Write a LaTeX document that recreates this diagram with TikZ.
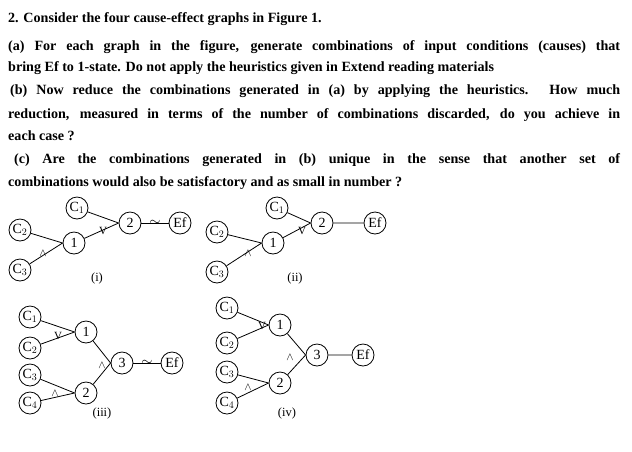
\documentclass[tikz,border=0pt]{standalone}
\usepackage{fontspec}
\setmainfont{Liberation Serif}
\begin{document}
\begin{tikzpicture}[x=1pt,y=-1pt,
  cn/.style={circle,draw,line width=0.8pt,inner sep=0pt,minimum size=22pt,font=\fontsize{14}{14}\selectfont},
  op/.style={font=\fontsize{11}{11}\selectfont},
  gcap/.style={font=\fontsize{12.5}{12.5}\selectfont},
  ln/.style={anchor=base west,inner sep=0pt,font=\bfseries\fontsize{14.1}{16}\selectfont},
  ed/.style={line width=0.8pt},
  wv/.style={line width=0.8pt}]
\useasboundingbox (0,0) rectangle (632,451);
\newcommand\jl[1]{\makebox[612pt][s]{#1}}
\node[ln] (t1) at (8,22) {2. Consider the four cause-effect graphs in Figure 1.};
\node[ln] (t2) at (8,50) {\jl{(a) For each graph in the figure, generate combinations of input conditions (causes) that}};
\node[ln] (t3) at (8,71) {bring Ef to 1-state. Do not apply the heuristics given in Extend reading materials};
\node[ln] (t4) at (10,94) {\makebox[610pt][s]{(b) Now reduce the combinations generated in (a) by applying the heuristics. How much}};
\node[ln] (t5) at (8,118) {\jl{reduction, measured in terms of the number of combinations discarded, do you achieve in}};
\node[ln] (t6) at (8,140) {each case ?};
\node[ln] (t7) at (14,163) {\makebox[606pt][s]{(c) Are the combinations generated in (b) unique in the sense that another set of}};
\node[ln] (t8) at (8,186) {combinations would also be satisfactory and as small in number ?};
% (i)
\node[cn] (a1) at (77,208) {C$_1$};
\node[cn] (a2) at (20,230) {C$_2$};
\node[cn] (a3) at (20,270) {C$_3$};
\node[cn] (an1) at (74,243) {1};
\node[cn] (an2) at (130,223) {2};
\node[cn] (aef) at (180,223) {Ef};
\draw[ed] (a2) -- (an1.west) (a3) -- (an1.west) (a1) -- (an2.west) (an1) -- (an2.west);
\draw[wv] (an2) -- (aef) node[midway,inner sep=0pt,font=\bfseries\Large]{$\sim$};
\node[op] (av) at (103,231) {V};
\node[op] (aa) at (43,253) {$\wedge$};
\node[gcap] (ac) at (97,278) {(i)};
% (ii)
\node[cn] (b1) at (277,208) {C$_1$};
\node[cn] (b2) at (217,232) {C$_2$};
\node[cn] (b3) at (217,272) {C$_3$};
\node[cn] (bn1) at (273,243) {1};
\node[cn] (bn2) at (322,223) {2};
\node[cn] (bef) at (375,223) {Ef};
\draw[ed] (b2) -- (bn1.west) (b3) -- (bn1.west) (b1) -- (bn2.west) (bn1) -- (bn2.west) (bn2) -- (bef);
\node[op] (bv) at (302,231) {V};
\node[op] (ba) at (248,253) {$\wedge$};
\node[gcap] (bc) at (295,278) {(ii)};
% (iii)
\node[cn] (c1) at (30,317) {C$_1$};
\node[cn] (c2) at (30,348) {C$_2$};
\node[cn] (c3) at (30,375) {C$_3$};
\node[cn] (c4) at (30,403) {C$_4$};
\node[cn] (cn1) at (86,332) {1};
\node[cn] (cn2) at (86,393) {2};
\node[cn] (cn3) at (122,363) {3};
\node[cn] (cef) at (172,363) {Ef};
\draw[ed] (c1) -- (cn1.west) (c2) -- (cn1.west) (c3) -- (cn2.west) (c4) -- (cn2.west)
  (cn1) -- (cn3.west) (cn2) -- (cn3.west);
\draw[wv] (cn3) -- (cef) node[midway,inner sep=0pt,font=\bfseries\Large]{$\sim$};
\node[op] (cv) at (58,336) {V};
\node[op] (ca) at (55,393) {$\wedge$};
\node[op] (ca2) at (102,365) {$\wedge$};
\node[gcap] (cc) at (102,413) {(iii)};
% (iv)
\node[cn] (d1) at (227,308) {C$_1$};
\node[cn] (d2) at (227,343) {C$_2$};
\node[cn] (d3) at (227,372) {C$_3$};
\node[cn] (d4) at (227,403) {C$_4$};
\node[cn] (dn1) at (280,325) {1};
\node[cn] (dn2) at (280,383) {2};
\node[cn] (dn3) at (317,355) {3};
\node[cn] (def) at (363,355) {Ef};
\draw[ed] (d1) -- (dn1.west) (d2) -- (dn1.west) (d3) -- (dn2.west) (d4) -- (dn2.west)
  (dn1) -- (dn3.west) (dn2) -- (dn3.west) (dn3) -- (def);
\node[op] (dv) at (262,326) {V};
\node[op] (da) at (290,357) {$\wedge$};
\node[op] (da2) at (248,387) {$\wedge$};
\node[gcap] (dc) at (287,413) {(iv)};
\end{tikzpicture}
\end{document}
